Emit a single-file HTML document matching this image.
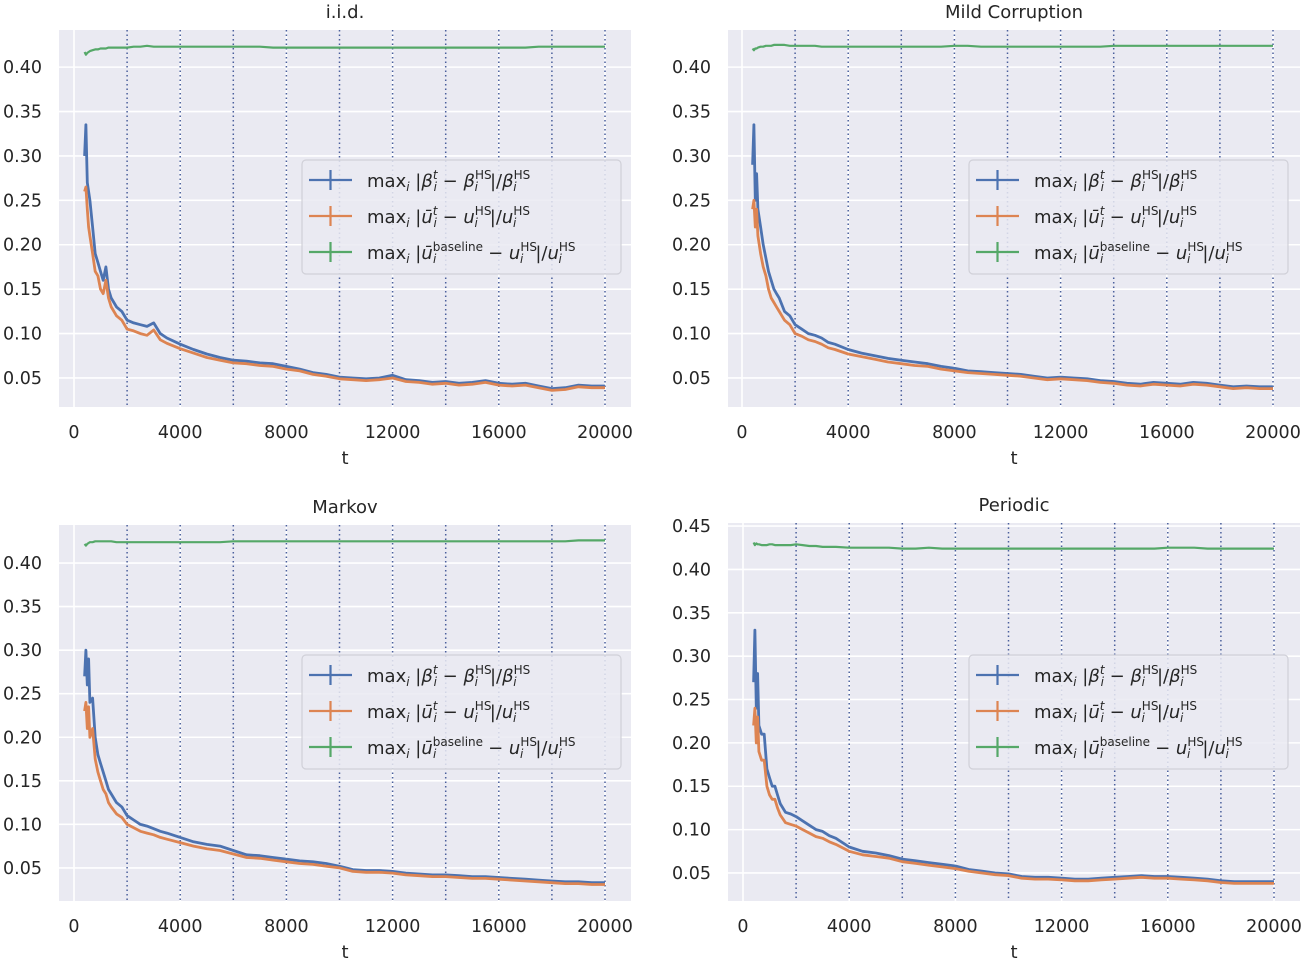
<!DOCTYPE html>
<html><head><meta charset="utf-8">
<style>
html,body{margin:0;padding:0;background:#fff;}
svg{display:block;font-family:"DejaVu Sans","Liberation Sans",sans-serif;}
</style></head>
<body>
<svg id="fig" width="1306" height="961" viewBox="0 0 1306 961" xmlns="http://www.w3.org/2000/svg"></svg>
<script>
const tPoints=[400,450,500,550,600,700,800,900,1000,1100,1200,1300,1400,1600,1800,2000,2250,2500,2750,3000,3250,3500,4000,4500,5000,5500,6000,6500,7000,7500,8000,8500,9000,9500,10000,10500,11000,11500,12000,12500,13000,13500,14000,14500,15000,15500,16000,16500,17000,17500,18000,18500,19000,19500,20000];
const xTicks=[0,4000,8000,12000,16000,20000];
const vLines=[2000,4000,6000,8000,10000,12000,14000,16000,18000,20000];
const titles=["i.i.d.","Mild Corruption","Markov","Periodic"];

const iidBlue=[0.30,0.335,0.27,0.26,0.25,0.22,0.19,0.18,0.17,0.16,0.175,0.15,0.14,0.13,0.125,0.115,0.112,0.11,0.108,0.112,0.10,0.095,0.088,0.082,0.077,0.073,0.070,0.069,0.067,0.066,0.063,0.060,0.056,0.054,0.051,0.050,0.049,0.050,0.053,0.048,0.047,0.045,0.046,0.044,0.045,0.047,0.044,0.043,0.044,0.041,0.038,0.039,0.042,0.041,0.041];
const iidOrange=[0.26,0.265,0.24,0.22,0.21,0.19,0.17,0.165,0.15,0.145,0.16,0.14,0.13,0.12,0.115,0.105,0.103,0.10,0.098,0.104,0.093,0.089,0.083,0.078,0.073,0.070,0.067,0.066,0.064,0.063,0.060,0.058,0.054,0.052,0.049,0.048,0.047,0.048,0.050,0.046,0.045,0.043,0.044,0.042,0.043,0.045,0.042,0.041,0.042,0.039,0.036,0.037,0.040,0.039,0.039];
const iidGreen=[0.417,0.414,0.416,0.417,0.418,0.419,0.420,0.420,0.421,0.421,0.421,0.422,0.422,0.422,0.422,0.422,0.423,0.423,0.424,0.423,0.423,0.423,0.423,0.423,0.423,0.423,0.423,0.423,0.423,0.422,0.422,0.422,0.422,0.422,0.422,0.422,0.422,0.422,0.422,0.422,0.422,0.422,0.422,0.422,0.422,0.422,0.422,0.422,0.422,0.423,0.423,0.423,0.423,0.423,0.423];

const mildBlue=[0.29,0.335,0.25,0.28,0.24,0.22,0.20,0.185,0.17,0.16,0.15,0.145,0.14,0.125,0.12,0.11,0.105,0.10,0.098,0.095,0.09,0.088,0.082,0.078,0.075,0.072,0.070,0.068,0.066,0.063,0.061,0.058,0.057,0.056,0.055,0.054,0.052,0.050,0.051,0.050,0.049,0.047,0.046,0.044,0.043,0.045,0.044,0.043,0.045,0.044,0.042,0.040,0.041,0.040,0.040];
const mildOrange=[0.24,0.25,0.22,0.24,0.21,0.19,0.175,0.165,0.15,0.14,0.135,0.13,0.125,0.115,0.11,0.10,0.097,0.093,0.091,0.088,0.084,0.082,0.077,0.074,0.071,0.068,0.066,0.064,0.063,0.060,0.058,0.056,0.055,0.054,0.053,0.052,0.050,0.048,0.049,0.048,0.047,0.045,0.044,0.042,0.041,0.043,0.042,0.041,0.043,0.042,0.040,0.038,0.039,0.038,0.038];
const mildGreen=[0.421,0.419,0.421,0.421,0.422,0.423,0.423,0.424,0.424,0.424,0.425,0.425,0.425,0.425,0.424,0.424,0.424,0.424,0.424,0.423,0.423,0.423,0.423,0.423,0.423,0.423,0.423,0.423,0.423,0.423,0.424,0.424,0.423,0.423,0.423,0.423,0.423,0.423,0.423,0.423,0.423,0.423,0.424,0.424,0.424,0.424,0.424,0.424,0.424,0.424,0.424,0.424,0.424,0.424,0.424];

const markovBlue=[0.27,0.30,0.26,0.29,0.24,0.245,0.20,0.18,0.17,0.16,0.15,0.14,0.135,0.125,0.12,0.11,0.105,0.10,0.098,0.095,0.092,0.090,0.085,0.080,0.077,0.075,0.070,0.065,0.064,0.062,0.060,0.058,0.057,0.055,0.052,0.048,0.047,0.047,0.046,0.044,0.043,0.042,0.042,0.041,0.040,0.040,0.039,0.038,0.037,0.036,0.035,0.034,0.034,0.033,0.033];
const markovOrange=[0.23,0.24,0.21,0.235,0.20,0.21,0.175,0.16,0.15,0.14,0.135,0.125,0.12,0.112,0.108,0.10,0.096,0.092,0.090,0.088,0.085,0.083,0.079,0.075,0.072,0.070,0.066,0.062,0.061,0.059,0.057,0.055,0.054,0.052,0.050,0.046,0.045,0.045,0.044,0.042,0.041,0.040,0.040,0.039,0.038,0.038,0.037,0.036,0.035,0.034,0.033,0.032,0.032,0.031,0.031];
const markovGreen=[0.422,0.420,0.422,0.423,0.424,0.424,0.425,0.425,0.425,0.425,0.425,0.425,0.425,0.424,0.424,0.424,0.424,0.424,0.424,0.424,0.424,0.424,0.424,0.424,0.424,0.424,0.425,0.425,0.425,0.425,0.425,0.425,0.425,0.425,0.425,0.425,0.425,0.425,0.425,0.425,0.425,0.425,0.425,0.425,0.425,0.425,0.425,0.425,0.425,0.425,0.425,0.425,0.426,0.426,0.426];

const perBlue=[0.27,0.33,0.24,0.28,0.22,0.21,0.21,0.17,0.16,0.15,0.15,0.14,0.13,0.12,0.118,0.115,0.11,0.105,0.10,0.098,0.093,0.090,0.080,0.075,0.073,0.070,0.066,0.064,0.062,0.060,0.058,0.054,0.052,0.050,0.049,0.046,0.045,0.045,0.044,0.043,0.043,0.044,0.045,0.046,0.047,0.046,0.046,0.045,0.044,0.043,0.041,0.040,0.040,0.040,0.040];
const perOrange=[0.22,0.24,0.20,0.23,0.19,0.18,0.18,0.15,0.14,0.135,0.135,0.125,0.117,0.108,0.106,0.104,0.10,0.096,0.092,0.090,0.086,0.083,0.075,0.071,0.069,0.067,0.063,0.061,0.059,0.057,0.055,0.052,0.050,0.048,0.047,0.044,0.043,0.043,0.042,0.041,0.041,0.042,0.043,0.044,0.045,0.044,0.044,0.043,0.042,0.041,0.039,0.038,0.038,0.038,0.038];
const perGreen=[0.431,0.428,0.430,0.429,0.429,0.428,0.428,0.428,0.429,0.429,0.428,0.428,0.428,0.428,0.428,0.429,0.428,0.427,0.427,0.426,0.426,0.426,0.425,0.425,0.425,0.425,0.424,0.424,0.425,0.424,0.424,0.424,0.424,0.424,0.424,0.424,0.424,0.424,0.424,0.424,0.424,0.424,0.424,0.424,0.424,0.424,0.425,0.425,0.425,0.424,0.424,0.424,0.424,0.424,0.424];

const yTicksA=[0.05,0.10,0.15,0.20,0.25,0.30,0.35,0.40];
const yTicksB=[0.05,0.10,0.15,0.20,0.25,0.30,0.35,0.40,0.45];

const NS="http://www.w3.org/2000/svg";
const svg=document.getElementById('fig');
function mk(tag,attrs,parent){const e=document.createElementNS(NS,tag);for(const k in attrs)e.setAttribute(k,attrs[k]);(parent||svg).appendChild(e);return e;}

const panels=[
 {left:59,top:30,w:572,h:377,x0:74,y0:0.0173,y1:0.4418,yt:yTicksA,ser:[iidBlue,iidOrange,iidGreen],lx:302,ly:160,name:"iid"},
 {left:728,top:30,w:572,h:377,x0:742,y0:0.0173,y1:0.4418,yt:yTicksA,ser:[mildBlue,mildOrange,mildGreen],lx:969,ly:160,name:"mild-corruption"},
 {left:59,top:525,w:572,h:376,x0:74,y0:0.012,y1:0.4437,yt:yTicksA,ser:[markovBlue,markovOrange,markovGreen],lx:302,ly:655,name:"markov"},
 {left:728,top:523,w:572,h:378,x0:743,y0:0.0177,y1:0.4535,yt:yTicksB,ser:[perBlue,perOrange,perGreen],lx:969,ly:655,name:"periodic"}
];
const colors=["#4c72b0","#dd8452","#55a868"];
const seriesNames=["beta-error","u-error","baseline-error"];

const SUP='font-size="12" dy="-8"';
function hsi(){return '<tspan '+SUP+'>HS</tspan><tspan font-size="12" dx="-17" dy="12" font-style="italic">i</tspan>';}
const labels=[
  '<tspan>max</tspan><tspan font-size="12" dy="4" font-style="italic">i</tspan><tspan dy="-4"> |</tspan><tspan font-style="italic">β</tspan><tspan font-size="12" dy="-8" font-style="italic">t</tspan><tspan font-size="12" dx="-4" dy="12" font-style="italic">i</tspan><tspan dy="-4"> − </tspan><tspan font-style="italic">β</tspan>'+hsi()+'<tspan dx="12" dy="-4">|/</tspan><tspan font-style="italic">β</tspan>'+hsi(),
  '<tspan>max</tspan><tspan font-size="12" dy="4" font-style="italic">i</tspan><tspan dy="-4"> |</tspan><tspan font-style="italic">ū</tspan><tspan font-size="12" dy="-8" font-style="italic">t</tspan><tspan font-size="12" dx="-4" dy="12" font-style="italic">i</tspan><tspan dy="-4"> − </tspan><tspan font-style="italic">u</tspan>'+hsi()+'<tspan dx="12" dy="-4">|/</tspan><tspan font-style="italic">u</tspan>'+hsi(),
  '<tspan>max</tspan><tspan font-size="12" dy="4" font-style="italic">i</tspan><tspan dy="-4"> |</tspan><tspan font-style="italic">ū</tspan><tspan font-size="12" dy="-8">baseline</tspan><tspan font-size="12" dx="-50" dy="12" font-style="italic">i</tspan><tspan dx="46" dy="-4"> − </tspan><tspan font-style="italic">u</tspan>'+hsi()+'<tspan dx="12" dy="-4">|/</tspan><tspan font-style="italic">u</tspan>'+hsi()
];

panels.forEach((p,pi)=>{
  const g=mk('g',{});
  
  
  const xs=v=>p.x0+v*0.02655;
  const ys=v=>p.top+(p.y1-v)/(p.y1-p.y0)*p.h;
  const bg=mk('rect',{x:p.left,y:p.top,width:p.w,height:p.h,fill:'#eaeaf2'},g);
  
  
  p.yt.forEach(v=>{
    const l=mk('line',{x1:p.left,x2:p.left+p.w,y1:ys(v),y2:ys(v),stroke:'#fff','stroke-width':1.6},g);
    
    
    const t=mk('text',{x:p.left-17,y:ys(v)+6,'text-anchor':'end','font-size':17.5,fill:'#262626'},g);
    t.textContent=v.toFixed(2);
    
    
  });
  xTicks.forEach(v=>{
    const l=mk('line',{x1:xs(v),x2:xs(v),y1:p.top,y2:p.top+p.h,stroke:'#fff','stroke-width':1.6},g);
    
    
    const t=mk('text',{x:xs(v),y:p.top+p.h+31,'text-anchor':'middle','font-size':17.5,fill:'#262626'},g);
    t.textContent=String(v);
    
    
  });
  vLines.forEach(v=>{
    const l=mk('line',{x1:xs(v),x2:xs(v),y1:p.top,y2:p.top+p.h,stroke:'#4a5f9c','stroke-width':1.5,'stroke-dasharray':'1.5,3'},g);
    
    
  });
  p.ser.forEach((arr,si)=>{
    const d=arr.map((v,i)=>(i?'L':'M')+xs(tPoints[i]).toFixed(1)+','+ys(v).toFixed(1)).join('');
    const path=mk('path',{d:d,fill:'none',stroke:colors[si],'stroke-width':si<2?2.8:2.2,'stroke-linejoin':'round'},g);
    
    
  });
  const title=mk('text',{x:p.left+p.w/2,y:p.top-12,'text-anchor':'middle','font-size':18,fill:'#262626'},g);
  title.textContent=titles[pi];
  
  
  const xl=mk('text',{x:p.left+p.w/2,y:p.top+p.h+57,'text-anchor':'middle','font-size':18,fill:'#262626'},g);
  xl.textContent='t';
  
  
  const lg=mk('g',{},g);
  
  
  mk('rect',{x:p.lx,y:p.ly,width:319,height:114,rx:4,fill:'#eaeaf2','fill-opacity':0.85,stroke:'#d0d0d8','stroke-width':1.2},lg);
  for(let k=0;k<3;k++){
    const yy=p.ly+20+k*36;
    const h=mk('line',{x1:p.lx+7,x2:p.lx+50,y1:yy,y2:yy,stroke:colors[k],'stroke-width':2.2},lg);
    
    
    mk('line',{x1:p.lx+28.5,x2:p.lx+28.5,y1:yy-10,y2:yy+10,stroke:colors[k],'stroke-width':2.2},lg);
    const t=mk('text',{x:p.lx+65,y:yy+7,'font-size':18,fill:'#262626'},lg);
    t.innerHTML=labels[k];
    
    
  }
});
</script>
</body></html>
